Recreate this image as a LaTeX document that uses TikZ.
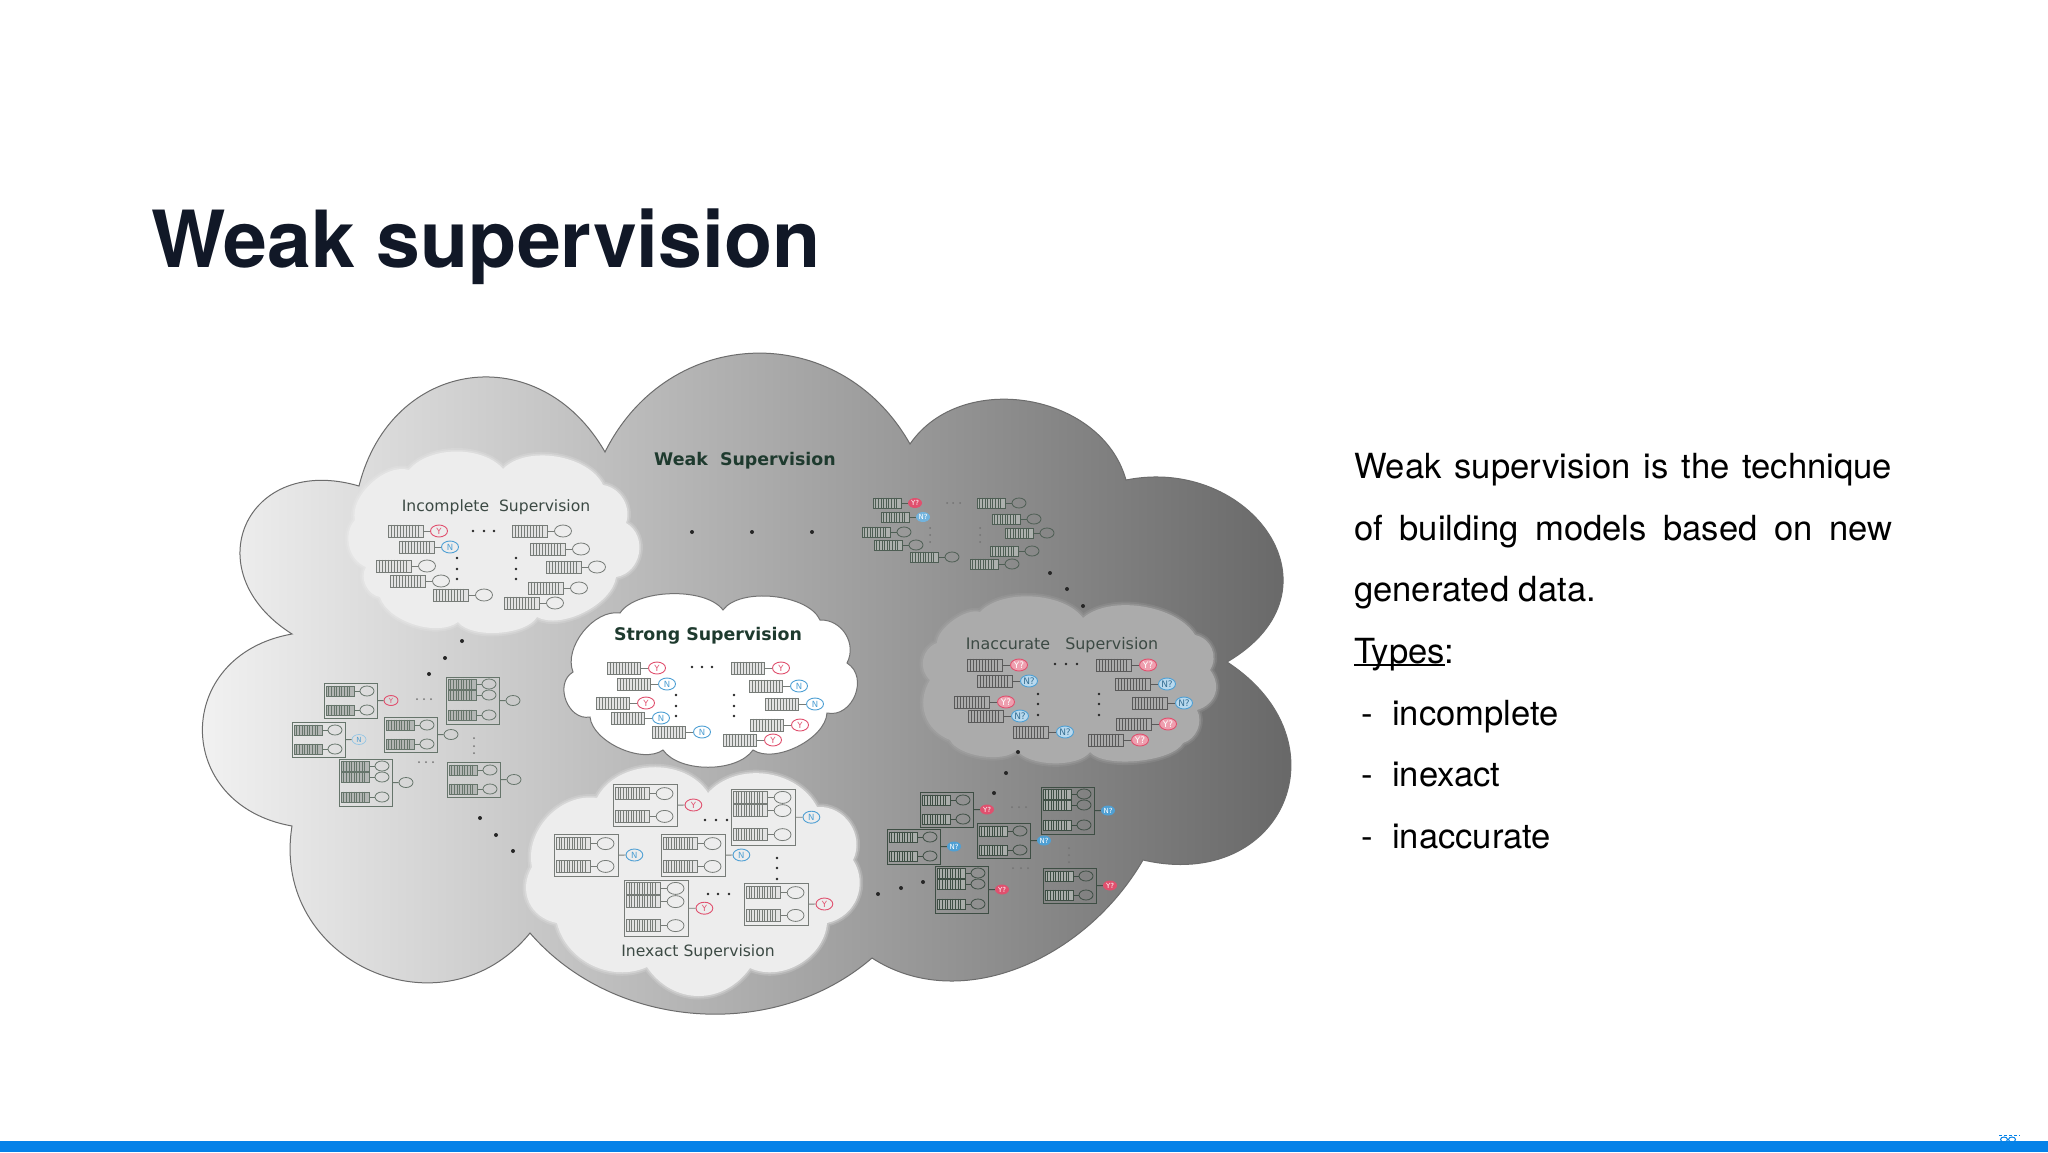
\documentclass[tikz,border=0pt]{standalone}
\usepackage{fontspec}
\usetikzlibrary{shapes.geometric}
\setmainfont{TeX Gyre Heros}
\newfontfamily\dv{DejaVu Sans}
\newcounter{nid}
\definecolor{inkt}{HTML}{111827}
\definecolor{barb}{HTML}{0582E8}
\definecolor{gtxt}{HTML}{3C4A44}
\definecolor{gdrk}{HTML}{1E3A2E}
\definecolor{rd}{HTML}{E0506E}
\definecolor{bl}{HTML}{4FA0D4}
\definecolor{gha}{HTML}{4E5E54}
\definecolor{ghb}{HTML}{66756B}
\definecolor{ghc}{HTML}{3E4E44}
\definecolor{qln}{HTML}{777C78}
\def\qw{33}\def\qh{12}\def\eoff{50}\def\erx{8.5}\def\ery{6}\def\hs{3}\def\ylab{Y}\def\nlab{N}
\newcommand\rowitem[4]{%
  \stepcounter{nid}\edef\nn{\thenid}%
  \node[qbox,anchor=west,minimum width=\qw pt,minimum height=\qh pt] (q\nn) at (#1,#2) {};
  \pgfmathsetmacro\nl{int(\qw/\hs)-1}
  \foreach \i in {1,...,\nl}{\draw[hatch] (q\nn.north west) ++(\i*\hs pt,0pt) -- ++(0pt,-\qh pt);}
  \node[#3,minimum width=2*\erx pt,minimum height=2*\ery pt] (e\nn) at (#1+\eoff,#2) {#4};
  \draw[conn] (q\nn) -- (e\nn);
}
\newcommand\rowE[2]{\rowitem{#1}{#2}{eblank}{}}
\newcommand\rowY[2]{\rowitem{#1}{#2}{ered}{\ylab}}
\newcommand\rowN[2]{\rowitem{#1}{#2}{eblue}{\nlab}}
% #1 x, #2 y, #3 scale, #4 rows 2|3, #5 outer style, #6 outer label
\newcommand\bagbox[6]{%
  \stepcounter{nid}\edef\bb{\thenid}%
  \pgfmathsetmacro\bw{53*#3}\pgfmathsetmacro\bhh{(#4==2 ? 35 : 47)*#3}
  \node[bagb,anchor=north west,minimum width=\bw pt,minimum height=\bhh pt] (b\bb) at (#1,#2) {};
  \begingroup
  \pgfmathsetmacro\qw{28*#3}\pgfmathsetmacro\qh{10*#3}\pgfmathsetmacro\eoff{41*#3}
  \pgfmathsetmacro\erx{7*#3}\pgfmathsetmacro\ery{5*#3}\def\hs{2.6}
  \pgfmathsetmacro\qx{#1+2*#3}
  \ifnum#4=2
    \rowitem{\qx}{#2+8*#3}{eblank}{}
    \rowitem{\qx}{#2+27*#3}{eblank}{}
  \else
    \rowitem{\qx}{#2+7*#3}{eblank}{}
    \rowitem{\qx}{#2+18*#3}{eblank}{}
    \rowitem{\qx}{#2+38*#3}{eblank}{}
  \fi
  \node[#5,minimum width=2*\erx pt,minimum height=2*\ery pt] (o\bb) at (#1+67*#3,#2+\bhh/2) {#6};
  \draw[conn] (b\bb) -- (o\bb);
  \endgroup
}
\tikzset{
  qbox/.style={draw=qln,fill=gray!22,line width=.7pt,inner sep=0pt},
  hatch/.style={draw=qln,line width=.45pt},
  conn/.style={draw=qln,line width=.8pt},
  bagb/.style={draw=qln,fill=none,line width=.8pt,inner sep=0pt},
  eblank/.style={ellipse,draw=qln,line width=.8pt,inner sep=0pt},
  ered/.style={ellipse,draw=rd,line width=.9pt,text=rd,inner sep=0pt,font=\dv\fontsize{8.5}{8.5}\selectfont},
  eblue/.style={ellipse,draw=bl,line width=.9pt,text=bl,inner sep=0pt,font=\dv\fontsize{8.5}{8.5}\selectfont},
  softcloud/.style={preaction={draw=#1,line width=7pt,opacity=.2,line join=round},
     preaction={draw=#1,line width=3.5pt,opacity=.35,line join=round},fill=#1},
  pdot/.style={fill=black!85},
  fdot/.style={fill=black!55},
  captext/.style={text=gtxt,font=\dv\fontsize{15.6}{16}\selectfont,inner sep=0pt},
  captextb/.style={text=gdrk,font=\dv\bfseries\fontsize{17.4}{18}\selectfont,inner sep=0pt},
  body/.style={anchor=base west,inner sep=0pt,text=black,font=\fontsize{34.6}{40}\selectfont},
  ghost/.style={
    qbox/.style={draw=#1,fill=#1!45!gray!55,line width=.7pt,inner sep=0pt},
    hatch/.style={draw=#1,line width=.5pt},
    conn/.style={draw=#1,line width=.9pt},
    bagb/.style={draw=#1,fill=none,line width=.9pt,inner sep=0pt},
    eblank/.style={ellipse,draw=#1,line width=.8pt,inner sep=0pt}}
}
\newcommand\dotsat[3]{\foreach \p in {#3}{\fill[#1] \p circle (#2pt);}}
\newcommand\ulword[1]{\sbox0{#1}\rlap{\rule[-3pt]{\wd0}{1.9pt}}\usebox0}
\begin{document}
\begin{tikzpicture}[x=1pt,y=-1pt]
\useasboundingbox (0,0) rectangle (2048,1152);
\fill[white] (0,0) rectangle (2048,1152);

% outer cloud
\path[draw=gray!85!black,line width=1pt,left color=black!4,middle color=black!32,right color=black!62]
  (605,452) to[bend left=62,looseness=1.2] (910,444)
  to[bend left=65,looseness=1.06] (1126,480)
  .. controls (1250,455) and (1350,590) .. (1227,662)
  to[bend left=80,looseness=1.72] (1143,860)
  .. controls (1085,960) and (960,1015) .. (872,958)
  to[bend left=45,looseness=.96] (530,933)
  to[bend left=75,looseness=1.35] (292,826)
  to[bend left=80,looseness=1.62] (292,634)
  to[bend left=82,looseness=1.85] (359,486)
  to[bend left=68,looseness=1.36] cycle;

% Incomplete cloud
\path[softcloud=black!7]
  (503,469) to[bend left=55,looseness=.85] (603,485) to[bend left=50] (626,523) to[bend left=70,looseness=1.2] (616,577)
  to[bend left=55,looseness=.8] (537,617) to[bend left=55,looseness=.7] (458,622) to[bend left=55,looseness=.8] (380,597) to[bend left=55] (366,567)
  to[bend left=55] (355,520) to[bend left=60,looseness=.85] (409,470) to[bend left=50,looseness=.85] cycle;
% Strong cloud
\path[draw=gray!90!black,line width=1pt,fill=white]
  (723,610) to[bend left=60,looseness=.75] (820,620) to[bend left=60,looseness=1.1] (847,663) to[bend left=80,looseness=1.25] (827,713)
  to[bend left=60,looseness=.8] (753,750) to[bend left=55,looseness=.8] (663,750) to[bend left=60,looseness=.8] (590,717) to[bend left=80,looseness=1.2] (573,672)
  to[bend left=60,looseness=.9] (620,613) to[bend left=55,looseness=.72] cycle;
% Inexact cloud
\path[softcloud=black!7]
  (708,793) to[bend left=55] (817,807) to[bend left=60,looseness=1.1] (853,860) to[bend left=55,looseness=1.1] (827,923)
  to[bend left=55] (750,968) to[bend left=55,looseness=1.15] (647,967) to[bend left=50] (557,923) to[bend left=55,looseness=1.15] (532,867)
  to[bend left=55] (597,798) to[bend left=60] cycle;
% Inaccurate cloud
\path[softcloud=black!33]
  (1083,618) to[bend left=50,looseness=.8] (1195,635) to[bend left=55,looseness=1.1] (1210,670) to[bend left=55,looseness=1.2] (1197,710)
  to[bend left=50] (1183,743) to[bend left=55,looseness=.6] (1090,752) to[bend left=55,looseness=.7] (1017,750) to[bend left=55,looseness=.7] (950,740)
  to[bend left=50,looseness=1.1] (930,680) to[bend left=60,looseness=1.1] (937,643) to[bend left=55,looseness=.7] (980,612) to[bend left=50,looseness=.8] cycle;

% Weak Supervision
\node[captextb] (tweak) at (745,461) {Weak\ \ Supervision};
\dotsat{pdot}{2}{(692,532),(752,532),(812,532)}

% Incomplete
\node[captext] (tinc) at (496,507) {Incomplete\ \ Supervision};
\begin{scope}
\def\qw{35}\def\eoff{51}
\rowY{388}{531}\rowN{399}{547}\rowE{376}{566}\rowE{390}{581}\rowE{433}{595}
\rowE{512}{531}\rowE{530}{549}\rowE{546}{567}\rowE{528}{588}\rowE{504}{603}
\dotsat{pdot}{1.3}{(473,531),(484,531),(494,531),(457,558),(457,569),(457,579),(516,558),(516,569),(516,579)}
\end{scope}

% Strong
\node[captextb] (tstr) at (708,636) {Strong Supervision};
\rowY{607}{668}\rowN{617}{684}\rowY{596}{703}\rowN{611}{718}\rowN{652}{732}
\rowY{731}{668}\rowN{749}{686}\rowN{765}{704}\rowY{750}{725}\rowY{723}{740}
\dotsat{pdot}{1.3}{(692,667),(702,667),(712,667),(676,695),(676,706),(676,716),(734,695),(734,706),(734,716)}

% Inexact
\node[captext] (tinx) at (698,952) {Inexact Supervision};
\begin{scope}
\bagbox{613}{784}{1.2}{2}{ered}{Y}
\bagbox{554}{834}{1.2}{2}{eblue}{N}
\bagbox{661}{834}{1.2}{2}{eblue}{N}
\bagbox{731}{789}{1.2}{3}{eblue}{N}
\bagbox{624}{880}{1.2}{3}{ered}{Y}
\bagbox{744}{883}{1.2}{2}{ered}{Y}
\dotsat{pdot}{1.3}{(705,820),(716,820),(727,820),(777,858),(777,868),(777,879),(708,894),(718,894),(729,894)}
\end{scope}

% Inaccurate
\node[captext,font=\dv\fontsize{15.9}{16}\selectfont] (tina) at (1062,645) {Inaccurate\ \ \ Supervision};
\begin{scope}[qbox/.style={draw=black!65,fill=none,line width=.7pt,inner sep=0pt},
  hatch/.style={draw=black!65,line width=.5pt},conn/.style={draw=black!65,line width=.8pt},
  ered/.style={ellipse,draw=rd,fill=rd!55!white,text=white,line width=.9pt,inner sep=0pt,font=\dv\fontsize{9}{9}\selectfont},
  eblue/.style={ellipse,draw=bl,fill=bl!40!white,text=bl!70!black,line width=.9pt,inner sep=0pt,font=\dv\fontsize{9}{9}\selectfont}]
\def\qw{35}\def\eoff{52}\def\ylab{Y?}\def\nlab{N?}
\rowY{967}{665}\rowN{977}{681}\rowY{954}{702}\rowN{968}{716}\rowN{1013}{732}
\rowY{1096}{665}\rowN{1115}{684}\rowN{1132}{703}\rowY{1116}{724}\rowY{1088}{740}
\dotsat{pdot}{1.4}{(1055,664),(1066,664),(1077,664),(1038,694),(1038,704),(1038,715),(1099,694),(1099,704),(1099,715)}
\end{scope}

% Top-right ghost group
\begin{scope}[ghost=gha,
  ered/.style={ellipse,fill=rd,text=white,inner sep=0pt,font=\dv\fontsize{7}{7}\selectfont},
  eblue/.style={ellipse,fill=bl!80!white,text=white,inner sep=0pt,font=\dv\fontsize{7}{7}\selectfont}]
\def\qw{28}\def\qh{10}\def\eoff{42}\def\erx{7}\def\ery{5}\def\hs{2.6}\def\ylab{Y?}\def\nlab{N?}
\rowY{873}{503}\rowN{881}{517}\rowE{862}{532}\rowE{874}{545}\rowE{910}{557}
\rowE{977}{503}\rowE{992}{519}\rowE{1005}{533}\rowE{990}{551}\rowE{970}{564}
\dotsat{fdot}{1}{(947,503),(953,503),(960,503),(930,528),(930,535),(930,542),(980,528),(980,535),(980,542)}
\end{scope}

% Left ghost group
\begin{scope}[ghost=ghb,
  ered/.style={ellipse,draw=rd,line width=.9pt,text=rd,inner sep=0pt,font=\dv\fontsize{7}{7}\selectfont},
  eblue/.style={ellipse,draw=bl!60!white,line width=.7pt,text=bl,inner sep=0pt,font=\dv\fontsize{7}{7}\selectfont}]
\bagbox{324}{683}{1}{2}{ered}{Y}
\bagbox{292}{722}{1}{2}{eblue}{N}
\bagbox{384}{717}{1}{2}{eblank}{}
\bagbox{339}{759}{1}{3}{eblank}{}
\bagbox{446}{677}{1}{3}{eblank}{}
\bagbox{447}{762}{1}{2}{eblank}{}
\dotsat{fdot}{1}{(417,699),(424,699),(431,699),(419,762),(426,762),(433,762),(474,738),(474,746),(474,753)}
\end{scope}

% Bottom-right ghost group
\begin{scope}[ghost=ghc,
  ered/.style={ellipse,fill=rd,text=white,inner sep=0pt,font=\dv\fontsize{7}{7}\selectfont},
  eblue/.style={ellipse,fill=bl,text=white,inner sep=0pt,font=\dv\fontsize{7}{7}\selectfont}]
\bagbox{920}{792}{1}{2}{ered}{Y?}
\bagbox{887}{829}{1}{2}{eblue}{N?}
\bagbox{977}{823}{1}{2}{eblue}{N?}
\bagbox{1041}{787}{1}{3}{eblue}{N?}
\bagbox{935}{866}{1}{3}{ered}{Y?}
\bagbox{1043}{868}{1}{2}{ered}{Y?}
\dotsat{fdot}{1}{(1012,807),(1019,807),(1026,807),(1069,848),(1069,855),(1069,862),(1013,868),(1021,868),(1028,868)}
\end{scope}

% connecting dots
\dotsat{pdot}{2}{(462,641),(445,658),(429,674),(480,818),(496,835),(513,851),(1050,573),(1067,589),(1083,606),(1018,752),(1006,773),(994,793),(878,894),(901,888),(923,882)}

% Title
\node[anchor=base west,inner sep=0pt,text=inkt,font=\bfseries\fontsize{78.8}{90}\selectfont] (title) at (151,267) {Weak supervision};

% Body
\node[body] (l1) at (1354,478) {\makebox[538pt][s]{Weak supervision is the technique}};
\node[body] (l2) at (1354,540) {\makebox[538pt][s]{of building models based on new}};
\node[body] (l3) at (1354,601) {generated data.};
\node[body] (l4) at (1354,663) {\ulword{Types}:};
\node[body] (l5) at (1361,725) {\makebox[31pt][l]{-}incomplete};
\node[body] (l6) at (1361,786) {\makebox[31pt][l]{-}inexact};
\node[body] (l7) at (1361,848) {\makebox[31pt][l]{-}inaccurate};

% footer
\draw[barb,line width=1pt,dash pattern=on 3pt off 2pt] (1999,1135) -- (2020,1135);
\draw[barb,line width=1pt] (2004,1139.5) ellipse (3.5 and 2.5) (2012,1139.5) ellipse (3.5 and 2.5);
\fill[barb] (0,1141) rectangle (2048,1152);
\end{tikzpicture}
\end{document}
